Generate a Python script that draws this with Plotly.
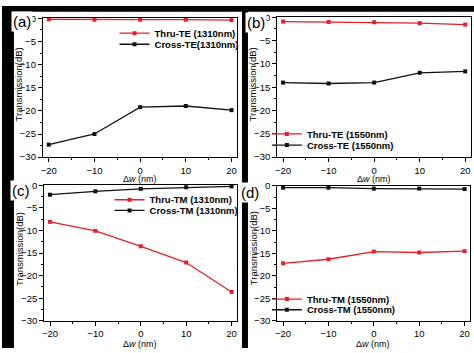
import plotly.graph_objects as go
from plotly.subplots import make_subplots

# ---- data ----
dw = [-20, -10, 0, 10, 20]

a_thru_te_1310 = [-0.2, -0.3, -0.3, -0.3, -0.4]
a_cross_te_1310 = [-27.3, -25.0, -19.2, -18.95, -19.85]

b_thru_te_1550 = [-0.9, -1.0, -1.05, -1.25, -1.55]
b_cross_te_1550 = [-14.0, -14.2, -14.0, -11.9, -11.6]

c_thru_tm_1310 = [-8.1, -10.1, -13.5, -17.1, -23.6]
c_cross_tm_1310 = [-2.1, -1.35, -0.8, -0.45, -0.25]

d_thru_tm_1550 = [-17.2, -16.3, -14.6, -14.8, -14.5]
d_cross_tm_1550 = [-0.4, -0.4, -0.6, -0.6, -0.7]

panel_labels = ["(a)", "(b)", "(c)", "(d)"]
x_title = "Δ<i>w</i> (nm)"
y_title = "Transmission(dB)"
x_ticks = [-20, -10, 0, 10, 20]
y_ticks = [0, -5, -10, -15, -20, -25, -30]

RED = "#e3202a"
BLACK = "#111111"
W, H = 474, 353
FONT = "Liberation Sans, Arial, sans-serif"

fig = make_subplots(rows=2, cols=2)

# panel geometry in pixels: (left, right, top, bottom)
geom = {
    (1, 1): (41, 236, 12.7, 156),
    (1, 2): (276.3, 470.7, 11.7, 156),
    (2, 1): (42.3, 236, 185, 325),
    (2, 2): (276.3, 470, 185.7, 325),
}

series = [
    ((1, 1), a_thru_te_1310, "Thru-TE (1310nm)", RED, "legend", (154, 28)),
    ((1, 1), a_cross_te_1310, "Cross-TE(1310nm)", BLACK, "legend2", (154, 39.5)),
    ((1, 2), b_thru_te_1550, "Thru-TE (1550nm)", RED, "legend3", (307, 132)),
    ((1, 2), b_cross_te_1550, "Cross-TE (1550nm)", BLACK, "legend4", (307, 143.5)),
    ((2, 1), c_thru_tm_1310, "Thru-TM (1310nm)", RED, "legend5", (149, 200)),
    ((2, 1), c_cross_tm_1310, "Cross-TM (1310nm)", BLACK, "legend6", (149, 211)),
    ((2, 2), d_thru_tm_1550, "Thru-TM (1550nm)", RED, "legend7", (307, 302.5)),
    ((2, 2), d_cross_tm_1550, "Cross-TM (1550nm)", BLACK, "legend8", (307, 313.5)),
]

legend_layouts = {}
for (rc, vals, name, color, leg, (tx, ty)) in series:
    fig.add_trace(
        go.Scatter(
            x=dw, y=vals, name=name, mode="lines+markers",
            line=dict(color=color, width=1.3),
            marker=dict(symbol="square", size=4, color=color),
            cliponaxis=False, legend=leg,
        ),
        row=rc[0], col=rc[1],
    )
    legend_layouts[leg] = dict(
        x=(tx - 41) / W, y=1 - ty / H, xanchor="left", yanchor="middle",
        bgcolor="rgba(0,0,0,0)", borderwidth=0,
        font=dict(family=FONT, size=9.5, color="black", weight="bold"),
        itemwidth=30, tracegroupgap=0,
    )

fig.update_layout(**legend_layouts)

for (r, c), (l, rt, t, b) in geom.items():
    fig.update_xaxes(
        domain=[l / W, rt / W], range=[-21.3, 21.2],
        tickvals=x_ticks, ticks="outside", ticklen=4, tickwidth=1, tickcolor="black",
        minor=dict(dtick=5, tick0=0, ticks="outside", ticklen=2, tickcolor="black"),
        showline=True, linecolor="black", linewidth=1, mirror=True,
        showgrid=False, zeroline=False,
        tickfont=dict(family=FONT, size=9.5, color="black"),
        row=r, col=c,
    )
    fig.update_yaxes(
        domain=[1 - b / H, 1 - t / H], range=[-30, 0],
        tickvals=y_ticks, ticks="outside", ticklen=4, tickwidth=1, tickcolor="black",
        minor=dict(dtick=2.5, tick0=0, ticks="outside", ticklen=2, tickcolor="black"),
        showline=True, linecolor="black", linewidth=1, mirror=True,
        showgrid=False, zeroline=False,
        tickfont=dict(family=FONT, size=9.5, color="black"),
        row=r, col=c,
    )

# black frame strips (figure background)
shapes = [
    dict(type="rect", xref="paper", yref="paper", x0=0, x1=12 / W, y0=0, y1=1),
    dict(type="rect", xref="paper", yref="paper", x0=0, x1=1, y0=1 - 6 / H, y1=1),
    dict(type="rect", xref="paper", yref="paper", x0=241 / W, x1=247 / W, y0=0, y1=1),
]
for s in shapes:
    s.update(fillcolor="black", line=dict(width=0), layer="above")

annotations = []
label_pos = [(20, 16), (255, 17), (19, 190), (249, 192)]
for txt, (px, py) in zip(panel_labels, label_pos):
    annotations.append(dict(
        text=txt, x=px / W, y=1 - py / H, xref="paper", yref="paper",
        showarrow=False, xanchor="center", yanchor="middle",
        font=dict(family=FONT, size=15, color="black"),
        bgcolor="white", borderpad=1,
    ))

# axis titles as text annotations (margins are zero)
ytitle_pos = [(17, 81), (252, 81), (17, 251), (252, 250)]
for px, py in ytitle_pos:
    annotations.append(dict(
        text=y_title, x=px / W, y=1 - py / H, xref="paper", yref="paper",
        showarrow=False, xanchor="center", yanchor="middle", textangle=-90,
        font=dict(family=FONT, size=9.5, color="black"),
    ))
xtitle_pos = [(139, 178.5), (374, 178.5), (139, 348.5), (373, 348.5)]
for px, py in xtitle_pos:
    annotations.append(dict(
        text=x_title, x=px / W, y=1 - py / H, xref="paper", yref="paper",
        showarrow=False, xanchor="center", yanchor="middle",
        font=dict(family=FONT, size=9, color="black"),
    ))

fig.update_layout(
    width=W, height=H, autosize=False,
    margin=dict(l=0, r=0, t=0, b=0),
    paper_bgcolor="white", plot_bgcolor="white",
    shapes=shapes, annotations=annotations,
    showlegend=True,
)

fig.write_html("out.html")
